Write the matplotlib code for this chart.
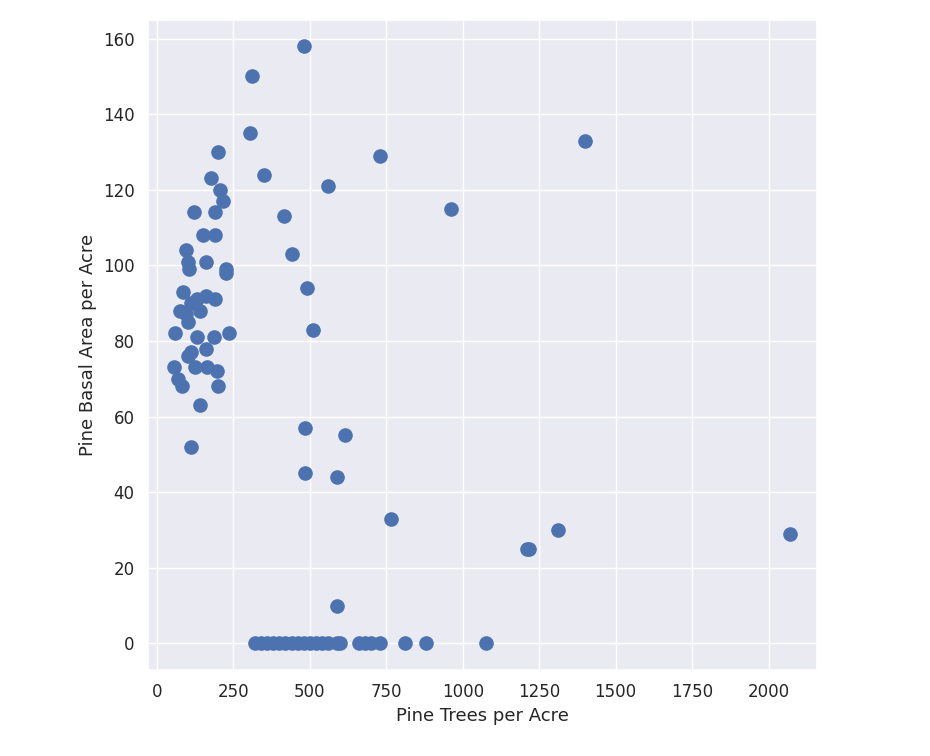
import matplotlib
matplotlib.use("Agg")
import matplotlib.pyplot as plt
import seaborn as sns

sns.set_theme(style="darkgrid")

# pine trees per acre vs pine basal area per acre
trees = [480, 310, 305, 1400, 200, 730, 350, 175, 560, 205, 215, 960, 120, 190,
         415, 150, 190, 95, 440, 100, 160, 105, 225, 225, 490, 85, 160, 130,
         190, 110, 75, 140, 95, 100, 510, 60, 130, 185, 235, 160, 110, 100, 55,
         125, 165, 195, 70, 80, 200, 140, 485, 615, 110, 485, 590, 765, 1310,
         2070, 1210, 1215, 590,
         320, 340, 360, 380, 400, 420, 440, 460, 480, 500, 520, 540, 560, 590,
         600, 660, 680, 700, 730, 810, 880, 1075]
basal = [158, 150, 135, 133, 130, 129, 124, 123, 121, 120, 117, 115, 114, 114,
         113, 108, 108, 104, 103, 101, 101, 99, 99, 98, 94, 93, 92, 91,
         91, 90, 88, 88, 87, 85, 83, 82, 81, 81, 82, 78, 77, 76, 73,
         73, 73, 72, 70, 68, 68, 63, 57, 55, 52, 45, 44, 33, 30,
         29, 25, 25, 10,
         0, 0, 0, 0, 0, 0, 0, 0, 0, 0, 0, 0, 0, 0,
         0, 0, 0, 0, 0, 0, 0, 0]

fig = plt.figure(figsize=(9.3, 7.56), dpi=100)
ax = fig.add_axes([0.159, 0.114, 0.72, 0.86])
ax.scatter(trees, basal, s=90, color="#4c72b0")
ax.set_xlim(-30, 2160)
ax.set_ylim(-7, 165)
ax.set_xticks([0, 250, 500, 750, 1000, 1250, 1500, 1750, 2000])
ax.set_yticks([0, 20, 40, 60, 80, 100, 120, 140, 160])
ax.set_xlabel("Pine Trees per Acre", fontsize=13)
ax.set_ylabel("Pine Basal Area per Acre", fontsize=13)
ax.tick_params(labelsize=12)
fig.savefig("out.png", dpi=100)
